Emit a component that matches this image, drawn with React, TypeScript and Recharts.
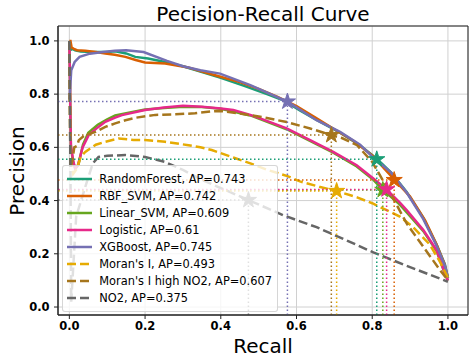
import React from "react";
import {
  CartesianGrid,
  ComposedChart,
  Legend,
  Line,
  ReferenceArea,
  ReferenceLine,
  Scatter,
  XAxis,
  YAxis,
} from "recharts";

type Pt = { r: number; p: number };

const FONT = "'DejaVu Sans', sans-serif";

const randomForest: Pt[] = [
  { r: 0, p: 1 }, { r: 0.002, p: 0.965 }, { r: 0.008, p: 0.97 }, { r: 0.015, p: 0.965 },
  { r: 0.03, p: 0.96 }, { r: 0.06, p: 0.958 }, { r: 0.1, p: 0.958 }, { r: 0.121, p: 0.961 },
  { r: 0.15, p: 0.953 }, { r: 0.174, p: 0.94 }, { r: 0.208, p: 0.934 }, { r: 0.253, p: 0.921 },
  { r: 0.3, p: 0.905 }, { r: 0.346, p: 0.885 }, { r: 0.398, p: 0.862 }, { r: 0.46, p: 0.832 },
  { r: 0.522, p: 0.8 }, { r: 0.565, p: 0.777 }, { r: 0.61, p: 0.738 }, { r: 0.653, p: 0.703 },
  { r: 0.715, p: 0.655 }, { r: 0.768, p: 0.607 }, { r: 0.812, p: 0.557 }, { r: 0.85, p: 0.505 },
  { r: 0.891, p: 0.432 }, { r: 0.935, p: 0.335 }, { r: 0.97, p: 0.235 }, { r: 0.992, p: 0.16 },
  { r: 1.0, p: 0.11 },
];

const rbfSvm: Pt[] = [
  { r: 0, p: 1 }, { r: 0.003, p: 1.0 }, { r: 0.006, p: 0.975 }, { r: 0.012, p: 0.97 },
  { r: 0.02, p: 0.965 }, { r: 0.042, p: 0.963 }, { r: 0.07, p: 0.958 }, { r: 0.095, p: 0.953 },
  { r: 0.12, p: 0.948 }, { r: 0.148, p: 0.94 }, { r: 0.175, p: 0.928 }, { r: 0.2, p: 0.919 },
  { r: 0.253, p: 0.915 }, { r: 0.314, p: 0.9 }, { r: 0.385, p: 0.871 }, { r: 0.45, p: 0.845 },
  { r: 0.5, p: 0.82 }, { r: 0.55, p: 0.79 }, { r: 0.6, p: 0.755 }, { r: 0.65, p: 0.712 },
  { r: 0.7, p: 0.668 }, { r: 0.75, p: 0.625 }, { r: 0.8, p: 0.57 }, { r: 0.858, p: 0.48 },
  { r: 0.9, p: 0.415 }, { r: 0.94, p: 0.325 }, { r: 0.97, p: 0.235 }, { r: 0.99, p: 0.165 },
  { r: 1.0, p: 0.11 },
];

const linearSvm: Pt[] = [
  { r: 0, p: 1 }, { r: 0.004, p: 0.6 }, { r: 0.01, p: 0.545 }, { r: 0.016, p: 0.52 },
  { r: 0.024, p: 0.535 }, { r: 0.036, p: 0.61 }, { r: 0.05, p: 0.655 }, { r: 0.075, p: 0.685 },
  { r: 0.1, p: 0.705 }, { r: 0.121, p: 0.72 }, { r: 0.15, p: 0.728 }, { r: 0.2, p: 0.742 },
  { r: 0.25, p: 0.748 }, { r: 0.3, p: 0.753 }, { r: 0.35, p: 0.752 }, { r: 0.4, p: 0.745 },
  { r: 0.478, p: 0.72 }, { r: 0.574, p: 0.668 }, { r: 0.697, p: 0.58 }, { r: 0.759, p: 0.528 },
  { r: 0.803, p: 0.478 }, { r: 0.828, p: 0.44 }, { r: 0.873, p: 0.385 }, { r: 0.935, p: 0.285 },
  { r: 0.97, p: 0.21 }, { r: 0.992, p: 0.125 }, { r: 1.0, p: 0.1 },
];

const logistic: Pt[] = [
  { r: 0, p: 1 }, { r: 0.004, p: 0.61 }, { r: 0.01, p: 0.55 }, { r: 0.015, p: 0.52 },
  { r: 0.022, p: 0.53 }, { r: 0.035, p: 0.6 }, { r: 0.051, p: 0.646 }, { r: 0.075, p: 0.675 },
  { r: 0.095, p: 0.696 }, { r: 0.121, p: 0.712 }, { r: 0.139, p: 0.721 }, { r: 0.2, p: 0.74 },
  { r: 0.25, p: 0.75 }, { r: 0.3, p: 0.756 }, { r: 0.35, p: 0.753 }, { r: 0.4, p: 0.746 },
  { r: 0.433, p: 0.74 }, { r: 0.478, p: 0.722 }, { r: 0.504, p: 0.709 }, { r: 0.574, p: 0.671 },
  { r: 0.636, p: 0.627 }, { r: 0.697, p: 0.583 }, { r: 0.759, p: 0.533 }, { r: 0.803, p: 0.483 },
  { r: 0.838, p: 0.442 }, { r: 0.873, p: 0.392 }, { r: 0.891, p: 0.364 }, { r: 0.935, p: 0.289 },
  { r: 0.97, p: 0.214 }, { r: 0.992, p: 0.127 }, { r: 1.0, p: 0.1 },
];

const xgBoost: Pt[] = [
  { r: 0, p: 0.78 }, { r: 0.002, p: 0.82 }, { r: 0.005, p: 0.89 }, { r: 0.014, p: 0.921 },
  { r: 0.027, p: 0.94 }, { r: 0.054, p: 0.952 }, { r: 0.089, p: 0.958 }, { r: 0.12, p: 0.963 },
  { r: 0.15, p: 0.965 }, { r: 0.196, p: 0.958 }, { r: 0.258, p: 0.925 }, { r: 0.3, p: 0.905 },
  { r: 0.346, p: 0.89 }, { r: 0.398, p: 0.877 }, { r: 0.478, p: 0.834 }, { r: 0.576, p: 0.772 },
  { r: 0.653, p: 0.702 }, { r: 0.715, p: 0.658 }, { r: 0.768, p: 0.61 }, { r: 0.8, p: 0.565 },
  { r: 0.85, p: 0.505 }, { r: 0.891, p: 0.43 }, { r: 0.935, p: 0.33 }, { r: 0.97, p: 0.23 },
  { r: 0.992, p: 0.155 }, { r: 1.0, p: 0.11 },
];

const moransI: Pt[] = [
  { r: 0, p: 1 }, { r: 0.003, p: 0.55 }, { r: 0.01, p: 0.5 }, { r: 0.02, p: 0.52 },
  { r: 0.03, p: 0.565 }, { r: 0.042, p: 0.583 }, { r: 0.07, p: 0.61 }, { r: 0.095, p: 0.621 },
  { r: 0.13, p: 0.633 }, { r: 0.17, p: 0.628 }, { r: 0.2, p: 0.628 }, { r: 0.253, p: 0.621 },
  { r: 0.315, p: 0.608 }, { r: 0.346, p: 0.6 }, { r: 0.376, p: 0.59 }, { r: 0.433, p: 0.562 },
  { r: 0.478, p: 0.54 }, { r: 0.522, p: 0.516 }, { r: 0.576, p: 0.492 }, { r: 0.609, p: 0.472 },
  { r: 0.66, p: 0.452 }, { r: 0.706, p: 0.436 }, { r: 0.76, p: 0.412 }, { r: 0.8, p: 0.39 },
  { r: 0.847, p: 0.358 }, { r: 0.873, p: 0.34 }, { r: 0.908, p: 0.3 }, { r: 0.952, p: 0.235 },
  { r: 0.979, p: 0.17 }, { r: 1.0, p: 0.11 },
];

const moransIHighNo2: Pt[] = [
  { r: 0, p: 1 }, { r: 0.003, p: 0.52 }, { r: 0.008, p: 0.55 }, { r: 0.013, p: 0.6 },
  { r: 0.02, p: 0.605 }, { r: 0.025, p: 0.627 }, { r: 0.04, p: 0.645 }, { r: 0.069, p: 0.658 },
  { r: 0.095, p: 0.677 }, { r: 0.121, p: 0.69 }, { r: 0.148, p: 0.702 }, { r: 0.174, p: 0.711 },
  { r: 0.227, p: 0.722 }, { r: 0.28, p: 0.724 }, { r: 0.332, p: 0.728 }, { r: 0.376, p: 0.735 },
  { r: 0.4, p: 0.737 }, { r: 0.45, p: 0.727 }, { r: 0.504, p: 0.715 }, { r: 0.574, p: 0.695 },
  { r: 0.636, p: 0.671 }, { r: 0.692, p: 0.646 }, { r: 0.72, p: 0.635 }, { r: 0.76, p: 0.608 },
  { r: 0.8, p: 0.545 }, { r: 0.847, p: 0.43 }, { r: 0.891, p: 0.314 }, { r: 0.935, p: 0.226 },
  { r: 0.979, p: 0.139 }, { r: 1.0, p: 0.1 },
];

const no2: Pt[] = [
  { r: 0, p: 1 }, { r: 0.003, p: 0.5 }, { r: 0.005, p: 0.02 }, { r: 0.018, p: 0.34 },
  { r: 0.045, p: 0.465 }, { r: 0.062, p: 0.54 }, { r: 0.077, p: 0.564 }, { r: 0.1, p: 0.568 },
  { r: 0.148, p: 0.571 }, { r: 0.2, p: 0.564 }, { r: 0.253, p: 0.545 }, { r: 0.3, p: 0.515 },
  { r: 0.35, p: 0.478 }, { r: 0.4, p: 0.447 }, { r: 0.473, p: 0.402 }, { r: 0.565, p: 0.345 },
  { r: 0.653, p: 0.3 }, { r: 0.741, p: 0.245 }, { r: 0.803, p: 0.205 }, { r: 0.891, p: 0.155 },
  { r: 1.0, p: 0.095 },
];

// best threshold point per model (star + dotted guides)
const bestPoints: Pt[] = [
  { r: 0.812, p: 0.555 },
  { r: 0.858, p: 0.477 },
  { r: 0.828, p: 0.44 },
  { r: 0.838, p: 0.442 },
  { r: 0.576, p: 0.772 },
  { r: 0.706, p: 0.436 },
  { r: 0.692, p: 0.646 },
  { r: 0.473, p: 0.402 },
];

const modelNames = [
  "RandomForest",
  "RBF_SVM",
  "Linear_SVM",
  "Logistic",
  "XGBoost",
  "Moran's I",
  "Moran's I high NO2",
  "NO2",
];
const apScores = ["0.743", "0.742", "0.609", "0.61", "0.745", "0.493", "0.607", "0.375"];
const curves = [randomForest, rbfSvm, linearSvm, logistic, xgBoost, moransI, moransIHighNo2, no2];
const colors = ["#1b9e77", "#d95f02", "#66a61e", "#e7298a", "#7570b3", "#e6ab02", "#a6761d", "#666666"];
const dashed = [false, false, false, false, false, true, true, true];

const ticks = [0, 0.2, 0.4, 0.6, 0.8, 1.0];
const X_MIN = -0.03;
const X_MAX = 1.053;
const Y_MIN = -0.03;
const Y_MAX = 1.056;

const Star = (props: any) => {
  const { cx, cy, fill } = props;
  const R = 8.5;
  const r = R * 0.382;
  const pts: string[] = [];
  for (let i = 0; i < 10; i++) {
    const rad = i % 2 === 0 ? R : r;
    const a = -Math.PI / 2 + (i * Math.PI) / 5;
    pts.push(`${cx + rad * Math.cos(a)},${cy + rad * Math.sin(a)}`);
  }
  return <polygon points={pts.join(" ")} fill={fill} stroke={fill} strokeWidth={1} />;
};

const LegendBox = () => (
  <div
    style={{
      background: "rgba(255,255,255,0.8)",
      border: "1px solid rgba(204,204,204,0.8)",
      borderRadius: 3,
      padding: "4px 5px 4px 4px",
      fontFamily: FONT,
      fontSize: 11.4,
      color: "#000",
    }}
  >
    {modelNames.map((name, i) => (
      <div
        key={name}
        style={{ display: "flex", alignItems: "center", height: 17.14, whiteSpace: "nowrap" }}
      >
        <svg width={25} height={6} style={{ marginRight: 7.3 }}>
          <line
            x1={0}
            y1={3}
            x2={25}
            y2={3}
            stroke={colors[i]}
            strokeWidth={2.5}
            strokeDasharray={dashed[i] ? "9 4" : undefined}
          />
        </svg>
        <span>
          {name}, AP={apScores[i]}
        </span>
      </div>
    ))}
  </div>
);

export default function App() {
  const tickStyle = { fontSize: 11.5, fontWeight: "bold", fill: "#000", fontFamily: FONT };
  return (
    <div style={{ position: "absolute", left: 0, top: 0, width: 474, height: 363, background: "#fff" }}>
      <div
        style={{
          position: "absolute",
          left: 58,
          width: 410,
          top: 4,
          textAlign: "center",
          fontFamily: FONT,
          fontSize: 20,
          lineHeight: "20px",
          color: "#000",
          zIndex: 2,
        }}
      >
        Pecision-Recall Curve
      </div>
      <ComposedChart width={474} height={363} margin={{ top: 26, right: 6, bottom: 0, left: 8 }}>
        <CartesianGrid stroke="#d0d0d0" strokeWidth={1} />
        <XAxis
          type="number"
          dataKey="r"
          domain={[X_MIN, X_MAX]}
          ticks={ticks}
          allowDataOverflow
          height={48}
          tickSize={4}
          tickMargin={3}
          tick={tickStyle}
          tickFormatter={(v: number) => v.toFixed(1)}
          stroke="#222"
          label={() => (
            <text x={263} y={353} textAnchor="middle" fontFamily={FONT} fontSize={20} fill="#000">
              Recall
            </text>
          )}
        />
        <YAxis
          type="number"
          dataKey="p"
          domain={[Y_MIN, Y_MAX]}
          ticks={ticks}
          allowDataOverflow
          width={50}
          tickSize={4}
          tickMargin={4.5}
          tick={tickStyle}
          tickFormatter={(v: number) => v.toFixed(1)}
          stroke="#222"
          label={() => (
            <text
              x={24}
              y={171}
              transform="rotate(-90 24 171)"
              textAnchor="middle"
              fontFamily={FONT}
              fontSize={20}
              fill="#000"
            >
              Precision
            </text>
          )}
        />
        <ReferenceArea
          x1={X_MIN}
          x2={X_MAX}
          y1={Y_MIN}
          y2={Y_MAX}
          fill="none"
          fillOpacity={0}
          stroke="#222"
          strokeWidth={1}
        />
        {curves.map((data, i) => (
          <Line
            key={`line-${i}`}
            data={data}
            dataKey="p"
            name={modelNames[i]}
            type="linear"
            stroke={colors[i]}
            strokeWidth={2.5}
            strokeDasharray={dashed[i] ? "9 4" : undefined}
            dot={false}
            activeDot={false}
            isAnimationActive={false}
          />
        ))}
        {bestPoints.map((pt, i) => (
          <ReferenceLine
            key={`v-${i}`}
            segment={[
              { x: pt.r, y: Y_MIN },
              { x: pt.r, y: pt.p },
            ]}
            stroke={colors[i]}
            strokeWidth={1.5}
            strokeDasharray="1.5 2.5"
          />
        ))}
        {bestPoints.map((pt, i) => (
          <ReferenceLine
            key={`h-${i}`}
            segment={[
              { x: X_MIN, y: pt.p },
              { x: pt.r, y: pt.p },
            ]}
            stroke={colors[i]}
            strokeWidth={1.5}
            strokeDasharray="1.5 2.5"
          />
        ))}
        {bestPoints.map((pt, i) => (
          <Scatter
            key={`star-${i}`}
            data={[pt]}
            dataKey="p"
            fill={colors[i]}
            shape={<Star />}
            legendType="none"
            isAnimationActive={false}
          />
        ))}
        <Legend
          layout="horizontal"
          align="center"
          verticalAlign="middle"
          content={() => <LegendBox />}
          wrapperStyle={{ left: 62, top: 165, width: "auto", height: "auto" }}
        />
      </ComposedChart>
    </div>
  );
}
